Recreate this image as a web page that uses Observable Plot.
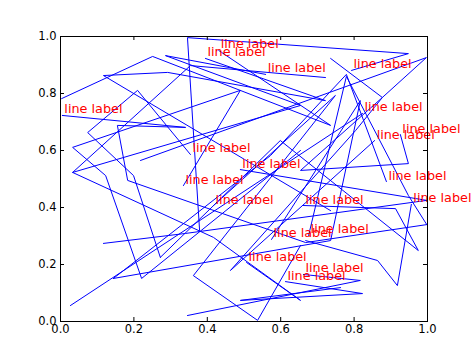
<!DOCTYPE html>
<html>
<head>
<meta charset="utf-8">
<script src="https://cdn.jsdelivr.net/npm/d3@7"></script>
<script src="https://cdn.jsdelivr.net/npm/@observablehq/plot@0.6"></script>
<style>
  html, body { margin: 0; padding: 0; background: white; }
</style>
</head>
<body>
<div id="chart"></div>
<script>
// Tick values
const xTicks = [0.0, 0.2, 0.4, 0.6, 0.8, 1.0];
const yTicks = [0.0, 0.2, 0.4, 0.6, 0.8, 1.0];
const labelText = "line label";

// Each line: x values and y values (label sits at the last point)
const lineX = [
  [0.003, 0.251, 0.736, 0.431],
  [0.736, 0.117, 0.292, 0.722, 0.395],
  [0.722, 0.354, 0.033, 0.654, 0.286, 0.559],
  [0.379, 0.346, 0.948, 0.793],
  [0.998, 0.668, 0.183, 0.155, 0.341, 0.005],
  [0.027, 0.823],
  [0.218, 0.997, 0.877, 0.654, 0.948, 0.926],
  [0.736, 0.877, 0.804, 0.463, 0.856],
  [0.272, 0.199, 0.074, 0.210, 0.354],
  [0.117, 0.341, 0.998, 0.490],
  [0.654, 0.221, 0.123, 0.033, 0.490, 0.335],
  [0.144, 0.572, 0.779, 0.888],
  [0.668, 0.864, 0.918, 0.956],
  [0.654, 0.537, 0.362, 0.749, 0.417],
  [0.272, 0.599, 0.975, 0.913, 0.662],
  [0.998, 0.948, 0.779, 0.676],
  [0.144, 0.736, 0.817, 0.575],
  [0.033, 0.417, 0.654, 0.507],
  [0.346, 0.817, 0.662],
  [0.763, 0.490, 0.823, 0.613]
];
const lineY = [
  [0.782, 0.930, 0.688, 0.951],
  [0.389, 0.863, 0.874, 0.775, 0.923],
  [0.856, 0.898, 0.523, 0.758, 0.933, 0.867],
  [0.319, 0.996, 0.940, 0.881],
  [0.340, 0.277, 0.495, 0.688, 0.681, 0.723],
  [0.056, 0.730],
  [0.565, 0.926, 0.786, 0.530, 0.554, 0.656],
  [0.923, 0.786, 0.670, 0.179, 0.635],
  [0.225, 0.512, 0.663, 0.811, 0.586],
  [0.274, 0.309, 0.425, 0.533],
  [0.600, 0.151, 0.512, 0.611, 0.811, 0.477],
  [0.151, 0.582, 0.867, 0.491],
  [0.284, 0.214, 0.126, 0.411],
  [0.267, 0.004, 0.161, 0.793, 0.407],
  [0.225, 0.635, 0.249, 0.396, 0.407],
  [0.340, 0.442, 0.860, 0.302],
  [0.151, 0.284, 0.775, 0.288],
  [0.523, 0.295, 0.074, 0.207],
  [0.021, 0.144, 0.165],
  [0.119, 0.074, 0.098, 0.140]
];

const rows = [];
lineX.forEach((xs, i) => xs.forEach((x, j) => rows.push({line: i, x, y: lineY[i][j]})));
const ends = lineX.map((xs, i) => ({x: xs[xs.length - 1], y: lineY[i][xs.length - 1]}));

const W = 474, H = 357, mL = 60, mR = 47, mT = 36, mB = 36;
const plotW = W - mL - mR, plotH = H - mT - mB, tick = 4;
const fmt = d3.format(".1f");

const chart = Plot.plot({
  width: W, height: H,
  marginLeft: mL, marginRight: mR, marginTop: mT, marginBottom: mB,
  x: {domain: [0, 1], label: null},
  y: {domain: [0, 1], label: null},
  style: {fontFamily: "DejaVu Sans", fontSize: "11.5px", color: "black", background: "white", overflow: "visible"},
  marks: [
    Plot.line(rows, {x: "x", y: "y", z: "line", stroke: "#0000ff", strokeWidth: 1}),
    Plot.text(ends, {x: "x", y: "y", text: () => labelText, fill: "red", fontSize: 12.8,
      fontFamily: "DejaVu Sans", textAnchor: "start", lineAnchor: "bottom", dx: 2, dy: -2}),
    Plot.tickX(xTicks, {x: d => d, insetTop: plotH - tick, stroke: "black"}),
    Plot.tickX(xTicks, {x: d => d, insetBottom: plotH - tick, stroke: "black"}),
    Plot.tickY(yTicks, {y: d => d, insetRight: plotW - tick, stroke: "black"}),
    Plot.tickY(yTicks, {y: d => d, insetLeft: plotW - tick, stroke: "black"}),
    Plot.frame({stroke: "black", strokeWidth: 1}),
    Plot.axisX(xTicks, {tickSize: 0, tickPadding: 3, tickFormat: fmt, fontSize: 11.5, label: null}),
    Plot.axisY(yTicks, {tickSize: 0, tickPadding: 4, tickFormat: fmt, fontSize: 11.5, label: null})
  ]
});
document.getElementById("chart").appendChild(chart);
</script>
</body>
</html>
